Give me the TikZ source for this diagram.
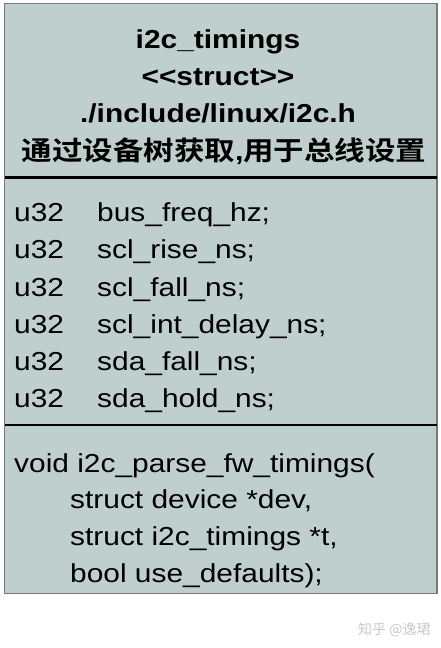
\documentclass[tikz,border=0pt]{standalone}
\usepackage{fontspec}
\setmainfont{Liberation Sans}[FakeStretch=1.15]
\newfontfamily\cjk{Noto Sans CJK SC Bold}[FakeStretch=1.15]
\newfontfamily\wmfont{Noto Sans CJK SC}
\definecolor{boxfill}{RGB}{190,207,206}
\definecolor{boxedge}{RGB}{120,120,120}
\definecolor{wmgray}{RGB}{200,200,200}
\begin{document}
\begin{tikzpicture}[x=1pt,y=-1pt,
  txt/.style={inner sep=0pt,font=\fontsize{26}{30}\selectfont},
  lft/.style={txt,anchor=base west},
  ctr/.style={txt,anchor=base},
  sep/.style={line width=2.4pt,black},
]
\useasboundingbox (0,0) rectangle (440,648);
\fill[white] (0,0) rectangle (440,648);
\draw[fill=boxfill,draw=boxedge,line width=1.5pt] (4.5,3.5) rectangle (437,593.5);
\coordinate (s1l) at (4.5,177.5); \coordinate (s1r) at (437,177.5);
\coordinate (s2l) at (4.5,425); \coordinate (s2r) at (437,425);
\draw[sep] (s1l) -- (s1r);
\draw[sep] (s2l) -- (s2r);
% title
\node[ctr,font=\fontsize{26}{30}\selectfont\bfseries] (t1) at (218,48) {i2c\_timings};
\node[ctr,font=\fontsize{26}{30}\selectfont\bfseries] (t2) at (218,85) {<\kern0pt<struct>\kern0pt>};
\node[ctr,font=\fontsize{26}{30}\selectfont\bfseries] (t3) at (218,122) {./include/linux/i2c.h};
\node[ctr,font=\fontsize{26.5}{30}\selectfont] (t4) at (224,160) {\cjk 通过设备树获取{\rmfamily\bfseries ,}用于总线设置};
% attributes
\foreach \n/\y/\t in {a1/221/bus\_freq\_hz;, a2/258/scl\_rise\_ns;, a3/296/scl\_fall\_ns;, a4/333/scl\_int\_delay\_ns;, a5/370/sda\_fall\_ns;, a6/407/sda\_hold\_ns;}{
  \node[lft] (\n t) at (14,\y) {u32};
  \node[lft] (\n n) at (97,\y) {\t};
}
% method
\node[lft] (m1) at (14,472) {void i2c\_parse\_fw\_timings(};
\node[lft] (m2) at (70,508) {struct device *dev,};
\node[lft] (m3) at (70,545) {struct i2c\_timings *t,};
\node[lft] (m4) at (70,582) {bool use\_defaults);};
% watermark
\node[inner sep=0pt,anchor=base west,text=wmgray,font=\wmfont\fontsize{14}{16}\selectfont] (wm) at (358,634) {知乎 @逸珺};
\end{tikzpicture}
\end{document}
